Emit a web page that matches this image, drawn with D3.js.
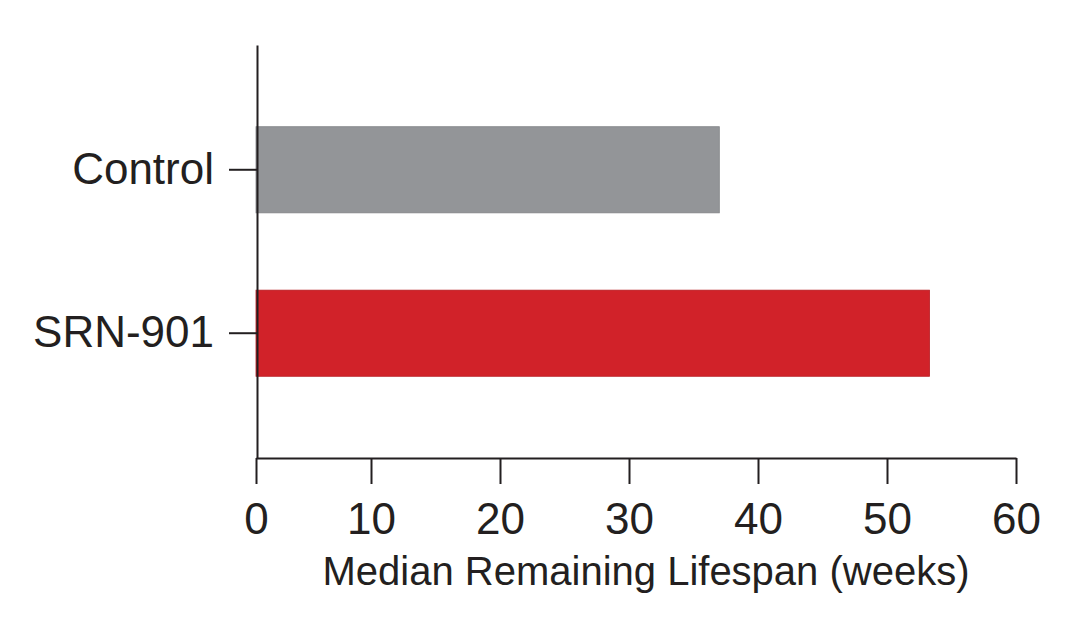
<!DOCTYPE html>
<html>
<head>
<meta charset="utf-8">
<script src="https://cdn.jsdelivr.net/npm/d3@7"></script>
<style>
  html, body { margin: 0; padding: 0; background: #fff; }
  svg { display: block; }
  text { font-family: "Liberation Sans", Arial, Helvetica, sans-serif; fill: #231f20; }
</style>
</head>
<body>
<svg id="chart" width="1080" height="640"></svg>
<script>
const categories = ["Control", "SRN-901"];
const values = [37.0, 53.3];
const barColors = ["#939598", "#d12229"];
const barEdges = ["#808285", "#b81c22"];
const xTicks = [0, 10, 20, 30, 40, 50, 60];
const xTitle = "Median Remaining Lifespan (weeks)";

const svg = d3.select("#chart");

// x scale: the printed "0" tick sits at the axis origin, ticks 10-60 evenly spaced
const x = d3.scaleLinear().domain([0, 10, 60]).range([256, 371, 1016]);
const y = d3.scaleBand().domain(categories).range([45, 458]).paddingInner(0.473).paddingOuter(0.5);

// bars
svg.append("g").selectAll("rect")
  .data(categories)
  .join("rect")
  .attr("x", x(0))
  .attr("y", d => y(d))
  .attr("width", (d, i) => x(values[i]) - x(0))
  .attr("height", y.bandwidth())
  .attr("fill", (d, i) => barColors[i])
  .attr("stroke", (d, i) => barEdges[i])
  .attr("stroke-width", 0.8);

// x axis
const xAxis = svg.append("g")
  .attr("transform", "translate(0,458)")
  .call(d3.axisBottom(x).tickValues(xTicks).tickFormat(d3.format("d")).tickSize(26).tickPadding(19).tickSizeOuter(0));
xAxis.select(".domain").attr("stroke", "#231f20").attr("stroke-width", 2);
xAxis.selectAll(".tick line").attr("stroke", "#231f20").attr("stroke-width", 2);
xAxis.selectAll(".tick text").attr("font-size", 44).attr("fill", "#231f20")
  .style("font-family", "'Liberation Sans', Arial, sans-serif");

// y axis
const yAxis = svg.append("g")
  .attr("transform", "translate(257,0)")
  .call(d3.axisLeft(y).tickSize(28).tickPadding(15).tickSizeOuter(0));
yAxis.select(".domain").attr("stroke", "#231f20").attr("stroke-width", 2);
yAxis.selectAll(".tick line").attr("stroke", "#231f20").attr("stroke-width", 2);
yAxis.selectAll(".tick text").attr("font-size", 44).attr("fill", "#231f20")
  .style("font-family", "'Liberation Sans', Arial, sans-serif");

// x axis title
svg.append("text")
  .attr("x", 646)
  .attr("y", 585)
  .attr("text-anchor", "middle")
  .attr("font-size", 40)
  .text(xTitle);
</script>
</body>
</html>
